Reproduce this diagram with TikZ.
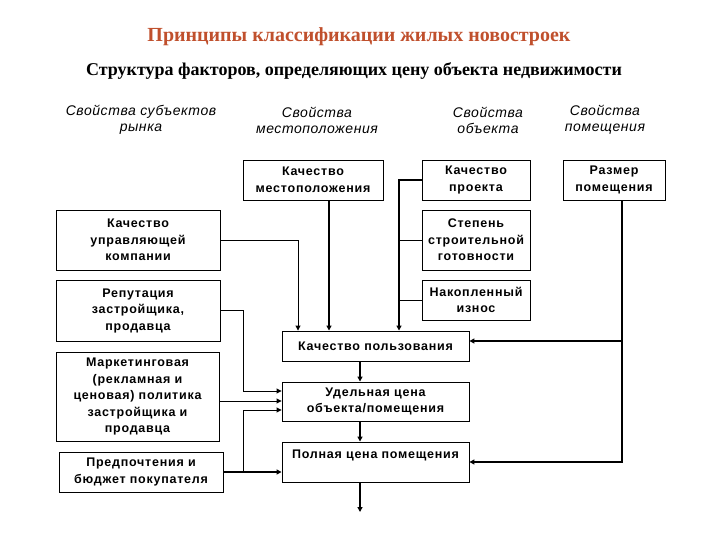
\documentclass[tikz,border=0pt]{standalone}
\usepackage{fontspec}
\setmainfont{Liberation Serif}
\newfontfamily\boxfont{Liberation Sans}[LetterSpace=6]
\newfontfamily\hdrfont{Liberation Sans}[LetterSpace=4]
\usetikzlibrary{arrows.meta,calc}
\definecolor{titlecol}{HTML}{C0502D}
\begin{document}
\begin{tikzpicture}[x=1pt,y=-1pt,
  box/.style={draw,line width=0.9pt,inner sep=0pt,align=center,
    font=\boxfont\bfseries\fontsize{12.5}{16.5}\selectfont},
  hdr/.style={align=center,font=\hdrfont\itshape\fontsize{14}{16}\selectfont},
  thinline/.style={line width=0.9pt},
  thickline/.style={line width=2pt},
  arr/.style={-{Triangle[length=5pt,width=5pt]}}
]
\useasboundingbox (0,0) rectangle (720,540);
\node[font=\bfseries\fontsize{20}{22}\selectfont,text=titlecol] (title) at (359,37) {Принципы классификации жилых новостроек};
\node[font=\bfseries\fontsize{18}{20}\selectfont] (sub) at (354,71) {Структура факторов, определяющих цену объекта недвижимости};
\node[hdr] (h1) at (141,120) {Свойства субъектов\\рынка};
\node[hdr] (h2) at (317,120) {Свойства\\местоположения};
\node[hdr] (h3) at (488,120) {Свойства\\объекта};
\node[hdr] (h4) at (605,120) {Свойства\\помещения};

\node[box,minimum width=140pt,minimum height=40pt] (loc) at (313,180) {Качество\\местоположения};
\node[box,minimum width=108pt,minimum height=40pt] (proj) at (476,180) {Качество\\проекта};
\node[box,minimum width=102pt,minimum height=40pt] (size) at (614,180) {Размер\\помещения};
\node[box,minimum width=108pt,minimum height=60pt] (stage) at (476,240) {Степень\\строительной\\готовности};
\node[box,minimum width=108pt,minimum height=40pt] (wear) at (476,300) {Накопленный\\износ};
\node[box,minimum width=164pt,minimum height=60pt] (mgmt) at (138,240) {Качество\\управляющей\\компании};
\node[box,minimum width=164pt,minimum height=61pt] (rep) at (138,310.5) {Репутация\\застройщика,\\продавца};
\node[box,minimum width=187pt,minimum height=30pt] (use) at (375.5,346) {Качество пользования};
\node[box,minimum width=163pt,minimum height=89pt] (mkt) at (137.5,396.5) {Маркетинговая\\(рекламная и\\ценовая) политика\\застройщика и\\продавца};
\node[box,minimum width=164pt,minimum height=40pt] (pref) at (141,472) {Предпочтения и\\бюджет покупателя};
\node[box,minimum width=187pt,minimum height=39pt] (unit) at (375.5,401.5) {Удельная цена\\объекта/помещения};
\node[box,minimum width=187pt,minimum height=40pt] (full) at (375.5,462) {Полная цена помещения\\\mbox{}};

\coordinate (bus) at (399,0);
\coordinate (jx) at (243,0);
\coordinate (endp) at (360,512);
\coordinate (locB) at ([xshift=16pt]loc.south);
\coordinate (useN) at ([xshift=-77.5pt]use.north);
\coordinate (useE) at ([yshift=5pt]use.east);
\coordinate (sizeB) at ([xshift=8pt]size.south);
\coordinate (unitA) at ([yshift=10.5pt]unit.west);
\coordinate (unitB) at ([yshift=-8.5pt]unit.west);
\coordinate (mktE) at ([yshift=-4.5pt]mkt.east);

% location quality
\draw[thickline,arr] (locB) -- (locB |- use.north);
% management company
\draw[thinline,arr] (mgmt.east) -| (useN);
% project bus
\draw[thickline,arr] (proj.west) -| (bus |- use.north);
\draw[thinline] (stage.west) -- (stage.west -| bus);
\draw[thinline] (wear.west) -- (wear.west -| bus);
% room size
\draw[thickline,arr] (sizeB) |- (full.east);
\draw[thickline,arr] (sizeB |- useE) -- (useE);
% reputation
\draw[thinline,arr] (rep.east) -| (jx |- unitA) -- (unitA);
% marketing
\draw[thinline,arr] (mktE) -- (mktE -| unit.west);
% preferences
\draw[thickline,arr] (pref.east) -- (pref.east -| full.west);
\draw[thinline,arr] (pref.east -| jx) |- (unitB);
% chain
\draw[thickline,arr] (use.south -| endp) -- (unit.north -| endp);
\draw[thickline,arr] (unit.south -| endp) -- (full.north -| endp);
\draw[thickline,arr] (full.south -| endp) -- (endp);
\end{tikzpicture}
\end{document}
